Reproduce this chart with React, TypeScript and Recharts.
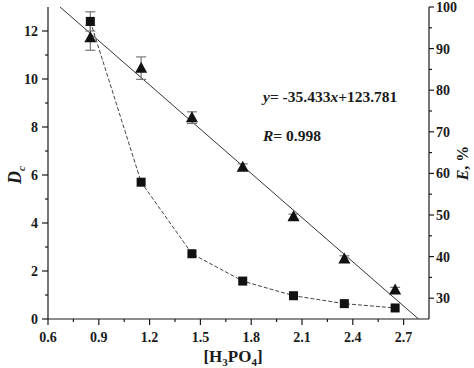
import React from "react";
import { ComposedChart, Line, XAxis, YAxis, ErrorBar } from "recharts";

const xValues = [0.85, 1.15, 1.45, 1.75, 2.05, 2.35, 2.65];
const dcValues = [12.4, 5.7, 2.72, 1.58, 0.97, 0.64, 0.46];
const dcErrors = [0.4, 0, 0, 0, 0, 0, 0];
const eValues = [92.6, 85.3, 73.4, 61.5, 49.6, 39.4, 32.0];
const eErrors = [3.0, 2.7, 1.4, 0.8, 0.6, 0.8, 0.6];
const fitLine = [
  { x: 0.671, fit: 100 },
  { x: 2.788, fit: 25 },
];
const xTicks = [0.6, 0.75, 0.9, 1.05, 1.2, 1.35, 1.5, 1.65, 1.8, 1.95, 2.1, 2.25, 2.4, 2.55, 2.7];
const leftTicks = [0, 1, 2, 3, 4, 5, 6, 7, 8, 9, 10, 11, 12];
const rightTicks = [30, 35, 40, 45, 50, 55, 60, 65, 70, 75, 80, 85, 90, 95, 100];

const rows = xValues.map((x, i) => ({
  x,
  dc: dcValues[i],
  dcErr: dcErrors[i],
  e: eValues[i],
  eErr: eErrors[i],
}));

const FONT = "'Liberation Serif', 'Times New Roman', serif";
const INK = "#1a1a1a";

const isMult = (v: number, base: number, step: number) => {
  const r = (v - base) / step;
  return Math.abs(r - Math.round(r)) < 1e-6;
};

const XTick = (props: any) => {
  const { x, y, payload } = props;
  const v = payload.value as number;
  const major = isMult(v, 0.6, 0.3);
  return (
    <g>
      <line x1={x} x2={x} y1={y} y2={y + (major ? 6 : 3)} stroke={INK} strokeWidth={1.2} />
      {major && (
        <text x={x} y={y + 23} textAnchor="middle" fontFamily={FONT} fontWeight="bold" fontSize={14} fill={INK}>
          {v.toFixed(1)}
        </text>
      )}
    </g>
  );
};

const LeftTick = (props: any) => {
  const { x, y, payload } = props;
  const v = payload.value as number;
  const major = v % 2 === 0;
  return (
    <g>
      <line x1={x} x2={x - (major ? 6 : 3)} y1={y} y2={y} stroke={INK} strokeWidth={1.2} />
      {major && (
        <text x={x - 10} y={y + 5} textAnchor="end" fontFamily={FONT} fontWeight="bold" fontSize={14} fill={INK}>
          {v}
        </text>
      )}
    </g>
  );
};

const RightTick = (props: any) => {
  const { x, y, payload } = props;
  const v = payload.value as number;
  const major = v % 10 === 0;
  return (
    <g>
      <line x1={x} x2={x + (major ? 5 : 3)} y1={y} y2={y} stroke={INK} strokeWidth={1.2} />
      {major && (
        <text x={x + 7} y={y + 5} textAnchor="start" fontFamily={FONT} fontWeight="bold" fontSize={14} fill={INK}>
          {v}
        </text>
      )}
    </g>
  );
};

const SquareDot = (props: any) => {
  const { cx, cy } = props;
  if (cx == null || cy == null) return null;
  return <rect x={cx - 4.5} y={cy - 4.5} width={9} height={9} fill="#111" />;
};

const TriangleDot = (props: any) => {
  const { cx, cy } = props;
  if (cx == null || cy == null) return null;
  return <path d={`M${cx},${cy - 6.5} L${cx + 6},${cy + 4.5} L${cx - 6},${cy + 4.5} Z`} fill="#111" />;
};

export default function App() {
  return (
    <div style={{ position: "absolute", left: 0, top: 0, width: 474, height: 368, background: "#fff" }}>
      <ComposedChart
        width={474}
        height={368}
        data={rows}
        margin={{ top: 7, right: 5, bottom: 0, left: 8 }}
      >
        <XAxis
          dataKey="x"
          type="number"
          domain={[0.6, 2.85]}
          ticks={xTicks}
          allowDataOverflow
          height={49}
          tickSize={0}
          tickMargin={0}
          tickLine={false}
          tick={<XTick />}
          axisLine={{ stroke: INK, strokeWidth: 1.2 }}
          interval={0}
        />
        <YAxis
          yAxisId="left"
          orientation="left"
          type="number"
          domain={[0, 13]}
          ticks={leftTicks}
          allowDataOverflow
          width={40}
          tickSize={0}
          tickMargin={0}
          tickLine={false}
          tick={<LeftTick />}
          axisLine={{ stroke: INK, strokeWidth: 1.2 }}
          interval={0}
        />
        <YAxis
          yAxisId="right"
          orientation="right"
          type="number"
          domain={[25, 100]}
          ticks={rightTicks}
          allowDataOverflow
          width={40}
          tickSize={0}
          tickMargin={0}
          tickLine={false}
          tick={<RightTick />}
          axisLine={{ stroke: INK, strokeWidth: 1.2 }}
          interval={0}
        />
        <Line
          yAxisId="right"
          data={fitLine}
          dataKey="fit"
          type="linear"
          stroke="#333"
          strokeWidth={1}
          dot={false}
          activeDot={false}
          isAnimationActive={false}
        />
        <Line
          yAxisId="left"
          dataKey="dc"
          type="linear"
          stroke="#444"
          strokeWidth={1}
          strokeDasharray="4 2"
          dot={<SquareDot />}
          activeDot={false}
          isAnimationActive={false}
        >
          <ErrorBar dataKey="dcErr" width={5} stroke="#777" strokeWidth={1.2} direction="y" />
        </Line>
        <Line
          yAxisId="right"
          dataKey="e"
          type="linear"
          stroke="none"
          dot={<TriangleDot />}
          activeDot={false}
          isAnimationActive={false}
        >
          <ErrorBar dataKey="eErr" width={5} stroke="#777" strokeWidth={1.2} direction="y" />
        </Line>
      </ComposedChart>
      <svg
        width={474}
        height={368}
        style={{ position: "absolute", left: 0, top: 0, pointerEvents: "none" }}
      >
        <text x={263} y={102} fontFamily={FONT} fontWeight="bold" fontSize={15.5} fill={INK}>
          <tspan fontStyle="italic">y</tspan>
          <tspan>= -35.433</tspan>
          <tspan fontStyle="italic">x</tspan>
          <tspan>+123.781</tspan>
        </text>
        <text x={263} y={141} fontFamily={FONT} fontWeight="bold" fontSize={15.5} fill={INK}>
          <tspan fontStyle="italic">R</tspan>
          <tspan>= 0.998</tspan>
        </text>
        <text
          x={0}
          y={0}
          transform="translate(21,175) rotate(-90)"
          textAnchor="middle"
          fontFamily={FONT}
          fontWeight="bold"
          fontSize={18}
          fill={INK}
        >
          <tspan fontStyle="italic">D</tspan>
          <tspan fontStyle="italic" fontSize={11} dy={4}>c</tspan>
        </text>
        <text
          x={0}
          y={0}
          transform="translate(468,163) rotate(-90)"
          textAnchor="middle"
          fontFamily={FONT}
          fontWeight="bold"
          fontSize={16}
          fill={INK}
        >
          <tspan fontStyle="italic">E</tspan>
          <tspan>, %</tspan>
        </text>
        <text x={233} y={362} textAnchor="middle" fontFamily={FONT} fontWeight="bold" fontSize={17} fill={INK}>
          <tspan>[H</tspan>
          <tspan fontSize={11} dy={4}>3</tspan>
          <tspan dy={-4}>PO</tspan>
          <tspan fontSize={11} dy={4}>4</tspan>
          <tspan dy={-4}>]</tspan>
        </text>
      </svg>
    </div>
  );
}
